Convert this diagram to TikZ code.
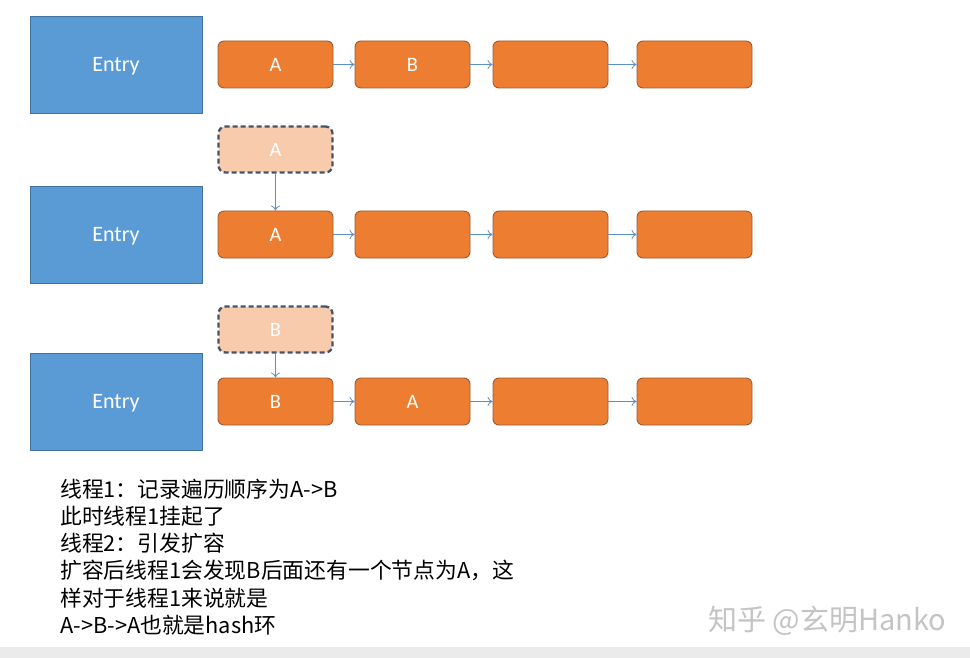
\documentclass[tikz,border=0pt]{standalone}
\usepackage{fontspec}
\setmainfont{Carlito}
\newfontfamily\cjk{Noto Sans CJK SC}
\usetikzlibrary{arrows.meta}
\definecolor{entryblue}{HTML}{5B9BD5}
\definecolor{entryedge}{HTML}{41719C}
\definecolor{nodeorange}{HTML}{ED7D31}
\definecolor{nodeedge}{HTML}{9C5A34}
\definecolor{paleorange}{HTML}{F8CBAD}
\definecolor{dashedge}{HTML}{44546A}
\definecolor{arrowblue}{HTML}{5B8FC7}
\definecolor{wmgray}{HTML}{C4C4C4}
\definecolor{stripgray}{HTML}{EBEBEB}
\tikzset{
  entrybox/.style={draw=entryedge, line width=0.8pt, fill=entryblue, minimum width=172pt, minimum height=97pt, inner sep=0pt, text=white, text depth=0pt, font=\fontsize{22}{26}\selectfont},
  listbox/.style={draw=nodeedge, line width=0.9pt, fill=nodeorange, rounded corners=6pt, minimum width=115pt, minimum height=47pt, inner sep=0pt, text=white, text depth=0pt, font=\fontsize{20.5}{24}\selectfont},
  ghostbox/.style={draw=dashedge, line width=2.3pt, dash pattern=on 5pt off 3pt, fill=paleorange, rounded corners=7pt, minimum width=114pt, minimum height=46pt, inner sep=0pt, text=white, text depth=0pt, font=\fontsize{20.5}{24}\selectfont},
  link/.style={draw=arrowblue, line width=0.8pt, -{To[length=5pt,width=9pt]}},
  note/.style={anchor=base west, inner sep=0pt, font=\cjk\fontsize{21.8}{26}\selectfont},
}
\begin{document}
\begin{tikzpicture}[x=1pt,y=-1pt]
\useasboundingbox (0,0) rectangle (970,658);
\fill[stripgray] (0,647) rectangle (970,658);
% row 1
\node[entrybox] (e1) at (116,64.5) {Entry};
\node[listbox] (r1a) at (275.5,64.5) {A};
\node[listbox] (r1b) at (412.5,64.5) {B};
\node[listbox] (r1c) at (550.5,64.5) {};
\node[listbox] (r1d) at (694.5,64.5) {};
\draw[link] (r1a) -- (r1b);
\draw[link] (r1b) -- (r1c);
\draw[link] (r1c) -- (r1d);
% row 2
\node[ghostbox] (g2) at (275.5,149.5) {A};
\node[entrybox] (e2) at (116,234.5) {Entry};
\node[listbox] (r2a) at (275.5,234.5) {A};
\node[listbox] (r2b) at (412.5,234.5) {};
\node[listbox] (r2c) at (550.5,234.5) {};
\node[listbox] (r2d) at (694.5,234.5) {};
\draw[link] (g2) -- (r2a);
\draw[link] (r2a) -- (r2b);
\draw[link] (r2b) -- (r2c);
\draw[link] (r2c) -- (r2d);
% row 3
\node[ghostbox] (g3) at (275.5,329.5) {B};
\node[entrybox] (e3) at (116,401.5) {Entry};
\node[listbox] (r3a) at (275.5,401.5) {B};
\node[listbox] (r3b) at (412.5,401.5) {A};
\node[listbox] (r3c) at (550.5,401.5) {};
\node[listbox] (r3d) at (694.5,401.5) {};
\draw[link] (g3) -- (r3a);
\draw[link] (r3a) -- (r3b);
\draw[link] (r3b) -- (r3c);
\draw[link] (r3c) -- (r3d);
% notes
\node[note] (t1) at (60,497) {线程1：记录遍历顺序为A->B};
\node[note] (t2) at (60,524) {此时线程1挂起了};
\node[note] (t3) at (60,551.5) {线程2：引发扩容};
\node[note] (t4) at (60,578.5) {扩容后线程1会发现B后面还有一个节点为A，这};
\node[note] (t5) at (60,606) {样对于线程1来说就是};
\node[note] (t6) at (60,633) {A->B->A也就是hash环};
% watermark
\node[anchor=base west, inner sep=0pt, text=wmgray, font=\cjk\fontsize{29}{33}\selectfont] (wm) at (708,630) {知乎 @玄明Hanko};
\end{tikzpicture}
\end{document}
